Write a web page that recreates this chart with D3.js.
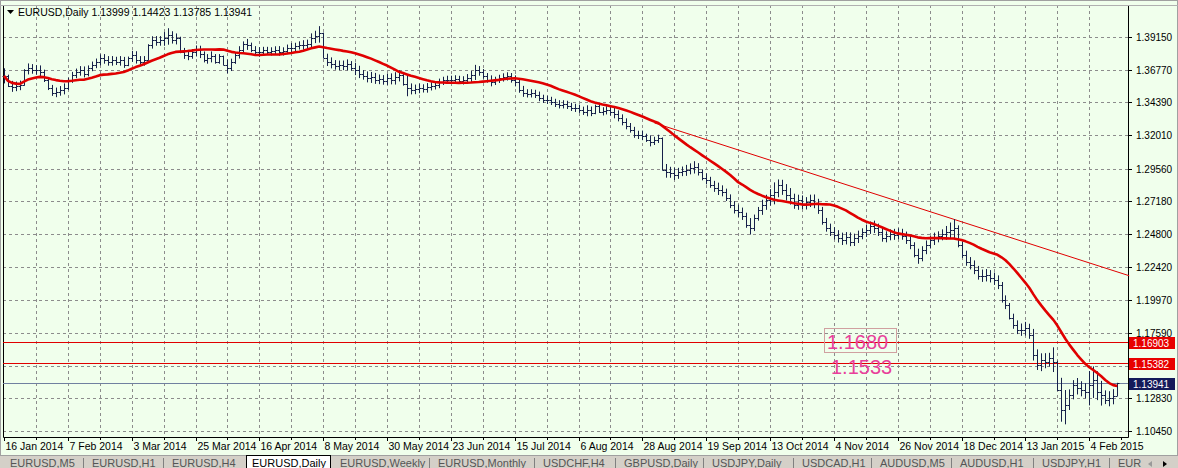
<!DOCTYPE html>
<html><head><meta charset="utf-8">
<script src="https://cdn.jsdelivr.net/npm/d3@7"></script>
<style>body{margin:0;background:#fff;overflow:hidden}svg{display:block}</style>
</head><body><svg id="c" width="1178" height="468"></svg>
<script>
const closes=[
1.3632,1.3559,1.3552,1.3559,1.3566,1.3675,1.3690,1.3675,
1.3675,1.3661,1.3603,1.3544,1.3508,1.3515,1.3530,1.3544,
1.3603,1.3639,1.3661,1.3675,1.3646,1.3690,1.3712,1.3734,
1.3763,1.3748,1.3734,1.3748,1.3734,1.3748,1.3712,1.3763,
1.3785,1.3748,1.3734,1.3748,1.3857,1.3894,1.3879,1.3894,
1.3908,1.3930,1.3894,1.3908,1.3806,1.3785,1.3777,1.3806,
1.3821,1.3792,1.3748,1.3763,1.3777,1.3734,1.3777,1.3712,
1.3690,1.3734,1.3785,1.3821,1.3865,1.3857,1.3821,1.3806,
1.3806,1.3821,1.3806,1.3814,1.3821,1.3806,1.3814,1.3836,
1.3836,1.3850,1.3857,1.3857,1.3865,1.3908,1.3923,1.3945,
1.3763,1.3734,1.3719,1.3705,1.3712,1.3705,1.3719,1.3690,
1.3675,1.3646,1.3632,1.3617,1.3624,1.3603,1.3610,1.3595,
1.3617,1.3603,1.3624,1.3639,1.3573,1.3544,1.3530,1.3537,
1.3544,1.3537,1.3552,1.3559,1.3566,1.3588,1.3603,1.3603,
1.3603,1.3610,1.3595,1.3603,1.3617,1.3639,1.3675,1.3661,
1.3632,1.3603,1.3588,1.3603,1.3617,1.3624,1.3632,1.3603,
1.3588,1.3530,1.3508,1.3501,1.3508,1.3493,1.3472,1.3457,
1.3457,1.3442,1.3428,1.3421,1.3428,1.3413,1.3399,1.3399,
1.3385,1.3370,1.3385,1.3362,1.3413,1.3370,1.3377,1.3385,
1.3370,1.3355,1.3326,1.3297,1.3268,1.3239,1.3202,1.3202,
1.3195,1.3166,1.3151,1.3166,1.3180,1.2947,1.2933,1.2926,
1.2911,1.2933,1.2940,1.2947,1.2962,1.2969,1.2933,1.2889,
1.2875,1.2838,1.2816,1.2802,1.2787,1.2744,1.2693,1.2656,
1.2642,1.2613,1.2547,1.2525,1.2598,1.2656,1.2693,1.2729,
1.2765,1.2787,1.2838,1.2802,1.2765,1.2744,1.2693,1.2729,
1.2693,1.2714,1.2729,1.2707,1.2656,1.2569,1.2525,1.2496,
1.2474,1.2452,1.2438,1.2460,1.2423,1.2452,1.2467,1.2496,
1.2511,1.2540,1.2525,1.2496,1.2452,1.2467,1.2481,1.2474,
1.2489,1.2467,1.2438,1.2401,1.2329,1.2307,1.2365,1.2401,
1.2438,1.2452,1.2467,1.2481,1.2496,1.2511,1.2525,1.2401,
1.2329,1.2278,1.2256,1.2219,1.2176,1.2176,1.2183,1.2161,
1.2147,1.2110,1.2001,1.1965,1.1870,1.1819,1.1783,1.1783,
1.1797,1.1746,1.1601,1.1528,1.1564,1.1550,1.1579,1.1550,
1.1345,1.1200,1.1237,1.1309,1.1382,1.1360,1.1345,1.1331,
1.1382,1.1419,1.1331,1.1309,1.1273,1.1287,1.1302,1.13941];
const rangesPips=[
110,90,80,70,70,120,80,70, 70,80,90,90,80,70,70,80, 90,80,70,70,80,80,70,70, 80,70,70,70,60,70,80,70,
80,90,70,70,120,90,70,70, 100,120,90,80,120,80,70,70, 80,90,80,70,80,70,70,70, 100,90,80,90,80,80,70,70,
70,60,60,60,60,70,60,70, 70,60,60,70,70,110,90,120, 180,90,80,70,70,70,80,70, 90,90,70,80,80,80,70,70,
80,80,90,80,90,150,80,70, 70,60,70,60,60,70,60,60, 60,60,60,60,70,80,110,70, 70,70,80,60,60,60,60,70,
80,100,80,60,60,60,70,60, 60,60,60,60,60,60,60,60, 60,60,80,70,70,60,60,60, 70,80,80,80,80,70,80,60,
70,60,80,60,60,240,100,80, 90,80,70,80,80,90,90,80, 80,80,80,90,80,90,100,90, 90,90,110,120,120,100,110,110,
120,160,130,110,120,120,110,110, 100,90,90,100,110,130,100,90, 90,90,90,90,100,90,90,80, 90,90,90,90,100,80,80,80,
80,80,90,100,110,110,110,100, 90,90,80,80,100,120,140,160, 120,110,90,100,100,90,90,90, 90,100,150,100,120,110,100,90,
100,110,230,150,130,110,100,180, 220,320,250,150,140,120,110,110, 250,230,210,180,100,110,110,90];
const dateLabels=["16 Jan 2014","7 Feb 2014","3 Mar 2014","25 Mar 2014","16 Apr 2014","8 May 2014","30 May 2014","23 Jun 2014","15 Jul 2014","6 Aug 2014","28 Aug 2014","19 Sep 2014","13 Oct 2014","4 Nov 2014","26 Nov 2014","18 Dec 2014","13 Jan 2015","4 Feb 2015"];
const priceTicks=[1.39150,1.36770,1.34390,1.32010,1.29560,1.27180,1.24800,1.22420,1.19970,1.17590,1.15210,1.12830,1.10450];
const levels=[1.16903,1.15382];
const lastPrice=1.13941;
const trendPts=[[163,1.3289],[282,1.2176]];
const annotations=["1.1680","1.1533"];
const tabs=["EURUSD,M5","EURUSD,H1","EURUSD,H4","EURUSD,Daily","EURUSD,Weekly","EURUSD,Monthly","USDCHF,H4","GBPUSD,Daily","USDJPY,Daily","USDCAD,H1","AUDUSD,M5","AUDUSD,H1","USDJPY,H1","EUR"];
const tabX=[10,92,172,252,340,438,543,624,712,802,880,960,1042,1118];

const svg=d3.select("#c");
const F="'Liberation Sans',Arial,sans-serif";
const L=3,R=1128,T=5,B=437;
const x=d3.scaleLinear().domain([0,279]).range([4,4+279*3.99]);
const y=d3.scaleLinear().domain([1.1045,1.3915]).range([431,37]);
svg.append("rect").attr("width",1178).attr("height",468).attr("fill","#f0ffec");
svg.append("rect").attr("x",0.5).attr("y",0.5).attr("width",1177).attr("height",455).attr("fill","none").attr("stroke","#a0a0a0");
const g=svg.append("g").attr("stroke","#8c8c8c").attr("stroke-dasharray","3,3").attr("stroke-width",1);
priceTicks.forEach(v=>g.append("line").attr("x1",L).attr("x2",R).attr("y1",Math.round(y(v))+0.5).attr("y2",Math.round(y(v))+0.5));
for(let i=8;i<=279;i+=8){const xx=Math.round(x(i))+0.5;g.append("line").attr("x1",xx).attr("x2",xx).attr("y1",T).attr("y2",B);}
svg.append("path").attr("d",`M${L+0.5},${T}V${B+0.5}H${R+0.5}V${T}`).attr("fill","none").attr("stroke","#000");
svg.append("line").attr("x1",0).attr("x2",1178).attr("y1",T+0.5).attr("y2",T+0.5).attr("stroke","#b0b0b0");
priceTicks.forEach(v=>{const yy=Math.round(y(v))+0.5;
 svg.append("line").attr("x1",R).attr("x2",R+4).attr("y1",yy).attr("y2",yy).attr("stroke","#000");
 if(v!==1.15210) svg.append("text").attr("x",R+8).attr("y",yy+3).attr("font-family",F).attr("font-size",10).attr("fill","#000").text(v.toFixed(5));});
dateLabels.forEach((t,k)=>{const xx=Math.round(x(k*16))+0.5;
 svg.append("line").attr("x1",xx).attr("x2",xx).attr("y1",B).attr("y2",B+4).attr("stroke","#000");
 svg.append("line").attr("x1",Math.round(x(k*16+8))+0.5).attr("x2",Math.round(x(k*16+8))+0.5).attr("y1",B).attr("y2",B+3).attr("stroke","#000");
 svg.append("text").attr("x",xx+1).attr("y",450).attr("font-family",F).attr("font-size",10.5).attr("fill","#000").text(t);});
levels.forEach(v=>svg.append("line").attr("x1",L).attr("x2",R).attr("y1",Math.round(y(v))+0.5).attr("y2",Math.round(y(v))+0.5).attr("stroke","#e00000"));
svg.append("line").attr("x1",L).attr("x2",R).attr("y1",Math.round(y(lastPrice))+0.5).attr("y2",Math.round(y(lastPrice))+0.5).attr("stroke","#7080a0");
svg.append("line").attr("x1",x(trendPts[0][0])).attr("y1",y(trendPts[0][1])).attr("x2",x(trendPts[1][0])).attr("y2",y(trendPts[1][1])).attr("stroke","#e00000").attr("stroke-width",1);
const bars=svg.append("g").attr("stroke","#16204a").attr("stroke-width",1);
closes.forEach((c,i)=>{const o=i?closes[i-1]:c;const rg=rangesPips[i]*0.0001;const w=Math.max(0.0002,(rg-Math.abs(o-c))/2);
 const hi=Math.max(o,c)+w,lo=Math.min(o,c)-w;const xx=Math.round(x(i))+0.5;
 bars.append("line").attr("x1",xx).attr("x2",xx).attr("y1",y(hi)).attr("y2",y(lo));
 bars.append("line").attr("x1",xx-2).attr("x2",xx).attr("y1",Math.round(y(o))+0.5).attr("y2",Math.round(y(o))+0.5);
 bars.append("line").attr("x1",xx).attr("x2",xx+2).attr("y1",Math.round(y(c))+0.5).attr("y2",Math.round(y(c))+0.5);});
const ma=closes.map((c,i)=>d3.mean(closes.slice(Math.max(0,i-19),i+1)));
svg.append("path").datum(ma).attr("d",d3.line().x((d,i)=>x(i)).y(d=>y(d))).attr("fill","none").attr("stroke","#e00000").attr("stroke-width",2.6).attr("stroke-linejoin","round");
function box(v,fill){const yy=Math.round(y(v));svg.append("rect").attr("x",R+1).attr("y",yy-5).attr("width",46).attr("height",12).attr("fill",fill);
 svg.append("text").attr("x",R+5).attr("y",yy+4.5).attr("font-family",F).attr("font-size",10).attr("fill","#fff").text(v.toFixed(5));}
box(levels[0],"#e80000");box(levels[1],"#e80000");box(lastPrice,"#141a5a");
svg.append("rect").attr("x",824.5).attr("y",328.5).attr("width",72).attr("height",24).attr("fill","none").attr("stroke","#d0a0a0");
svg.append("text").attr("x",827).attr("y",349).attr("font-family",F).attr("font-size",20).attr("fill","#e8409a").text(annotations[0]);
svg.append("text").attr("x",831).attr("y",374).attr("font-family",F).attr("font-size",20).attr("fill","#e8409a").text(annotations[1]);
svg.append("path").attr("d","M7,10h7l-3.5,4z").attr("fill","#000");
svg.append("text").attr("x",18).attr("y",16).attr("font-family",F).attr("font-size",10.5).attr("fill","#000").text("EURUSD,Daily  1.13999 1.14423 1.13785 1.13941");
svg.append("rect").attr("x",0).attr("y",456).attr("width",1178).attr("height",12).attr("fill","#d4d0c8");
tabs.forEach((t,k)=>{const active=k===3;
 if(active){svg.append("rect").attr("x",246.5).attr("y",455.5).attr("width",84).attr("height",14).attr("fill","#fff").attr("stroke","#000");}
 else if(k>0&&k!==4) svg.append("line").attr("x1",tabX[k]-8.5).attr("x2",tabX[k]-8.5).attr("y1",458).attr("y2",468).attr("stroke","#808080");
 svg.append("text").attr("x",tabX[k]).attr("y",467).attr("font-family",F).attr("font-size",11).attr("fill",active?"#000":"#555").text(t);});
svg.append("path").attr("d","M1148,464l4,-3v6z").attr("fill","#999");
svg.append("path").attr("d","M1163,461l4,3l-4,3z").attr("fill","#000");
</script></body></html>
